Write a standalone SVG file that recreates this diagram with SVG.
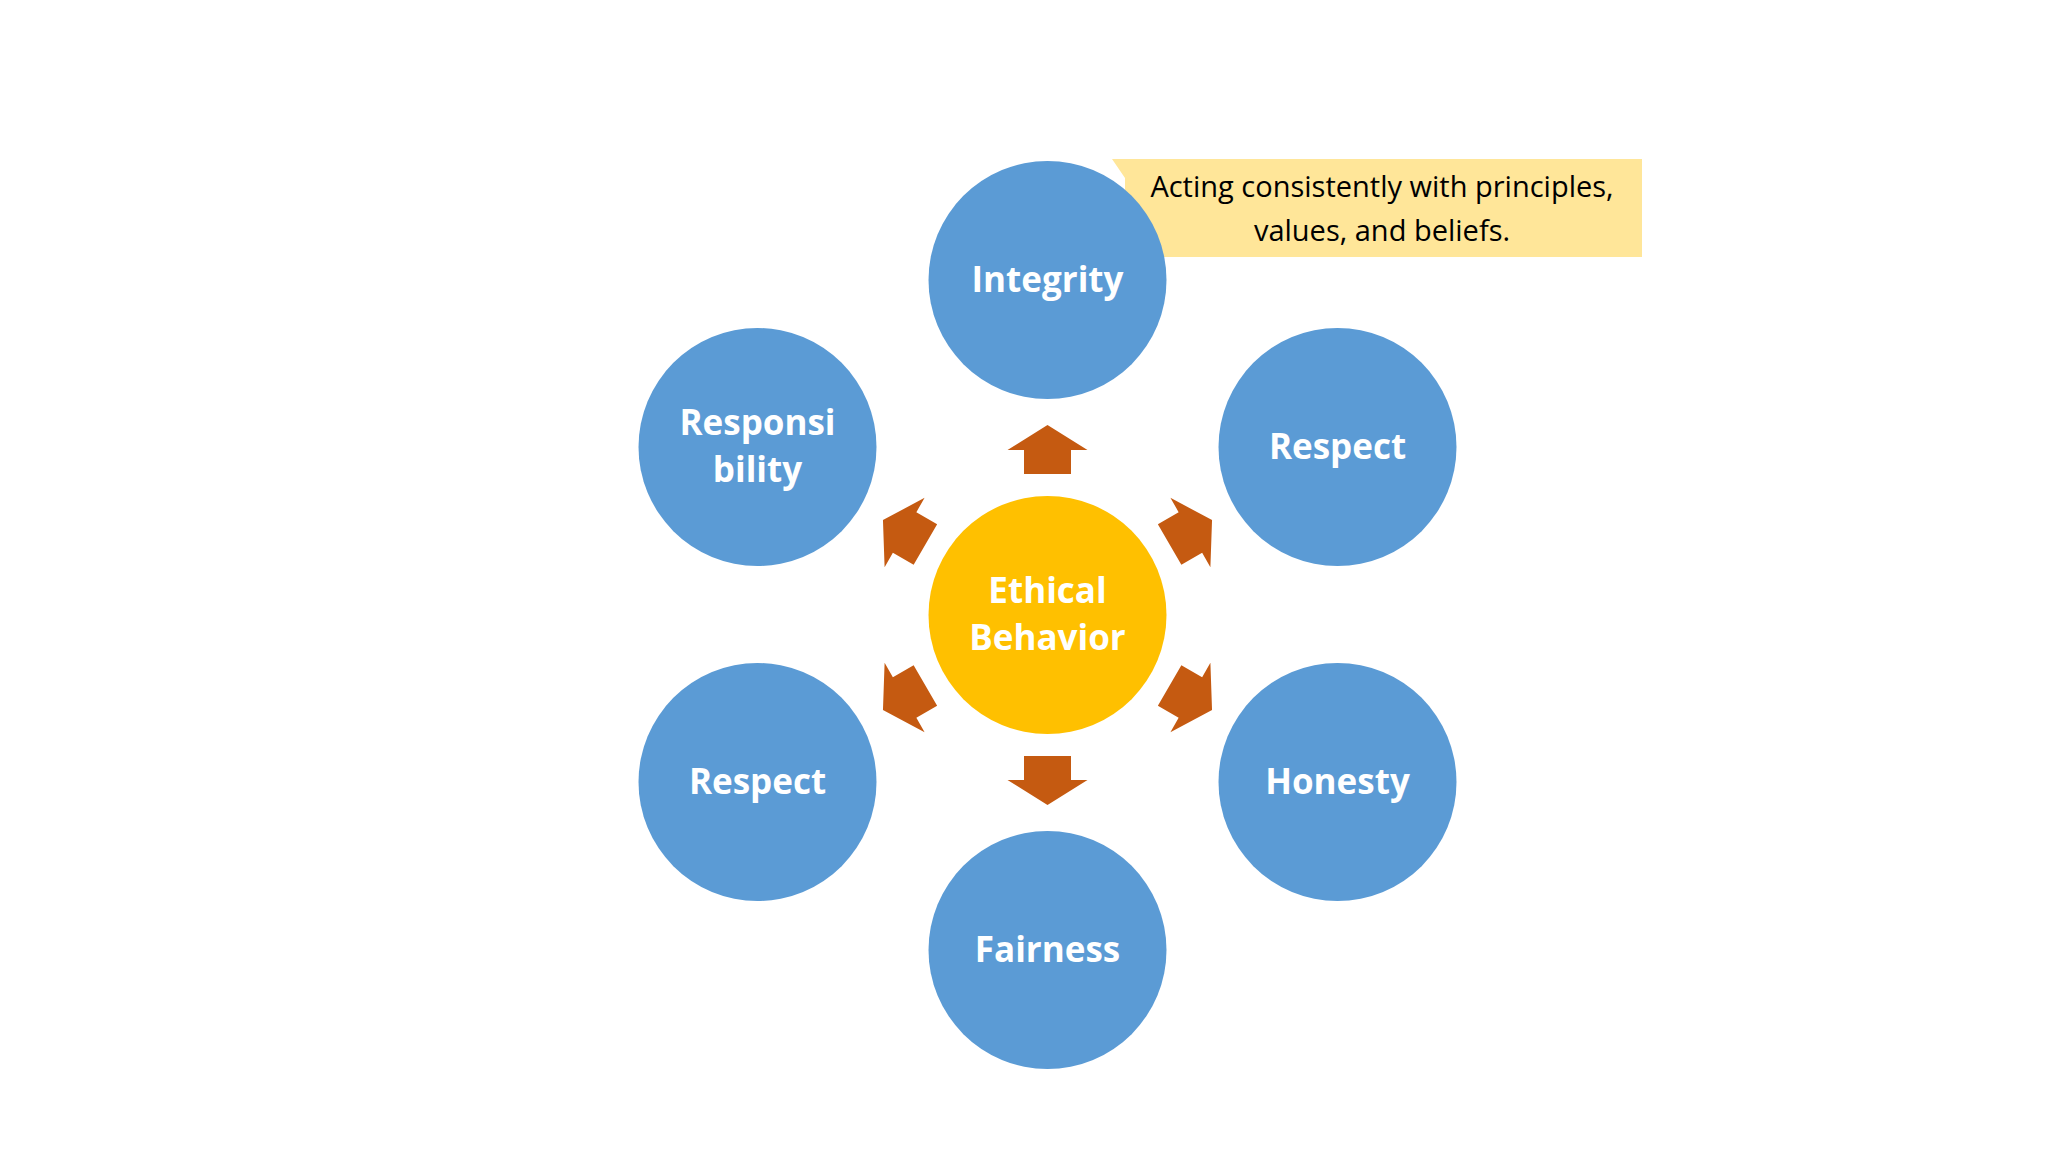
<svg xmlns="http://www.w3.org/2000/svg" width="2048" height="1152" viewBox="0 0 2048 1152">
<style>
.n{fill:#5B9BD5}
.t{font-family:"Open Sans","Liberation Sans",sans-serif;font-weight:bold;font-size:35px;fill:#fff;text-anchor:middle}
.c{font-family:"Open Sans","Liberation Sans",sans-serif;font-size:29px;fill:#000;text-anchor:middle}
.a{fill:#C55A11}
</style>
<rect width="2048" height="1152" fill="#fff"/>
<g id="callout">
<polygon points="1112,159 1642,159 1642,257 1125,257 1125,178" fill="#FFE699"/>
<text class="c" x="1382" y="197">Acting consistently with principles,</text>
<text class="c" x="1382" y="241">values, and beliefs.</text>
</g>
<g id="connectors">
<defs><polygon id="arr" points="0,-190 -40,-165 -23.5,-165 -23.5,-141 23.5,-141 23.5,-165 40,-165"/></defs>
<use href="#arr" class="a" transform="translate(1047.5,615) rotate(0)"/>
<use href="#arr" class="a" transform="translate(1047.5,615) rotate(60)"/>
<use href="#arr" class="a" transform="translate(1047.5,615) rotate(120)"/>
<use href="#arr" class="a" transform="translate(1047.5,615) rotate(180)"/>
<use href="#arr" class="a" transform="translate(1047.5,615) rotate(240)"/>
<use href="#arr" class="a" transform="translate(1047.5,615) rotate(300)"/>
</g>
<g id="center"><circle cx="1047.5" cy="615" r="119" fill="#FFC000"/>
<text class="t" x="1047.5" y="603">Ethical</text><text class="t" x="1047.5" y="650">Behavior</text></g>
<g id="integrity"><circle class="n" cx="1047.5" cy="280" r="119"/><text class="t" x="1047.5" y="292">Integrity</text></g>
<g id="respect-right"><circle class="n" cx="1337.5" cy="447" r="119"/><text class="t" x="1337.5" y="459">Respect</text></g>
<g id="honesty"><circle class="n" cx="1337.5" cy="782" r="119"/><text class="t" x="1337.5" y="794">Honesty</text></g>
<g id="fairness"><circle class="n" cx="1047.5" cy="950" r="119"/><text class="t" x="1047.5" y="962">Fairness</text></g>
<g id="respect-left"><circle class="n" cx="757.5" cy="782" r="119"/><text class="t" x="757.5" y="794">Respect</text></g>
<g id="responsibility"><circle class="n" cx="757.5" cy="447" r="119"/><text class="t" x="757.5" y="435">Responsi</text><text class="t" x="757.5" y="482">bility</text></g>
</svg>
